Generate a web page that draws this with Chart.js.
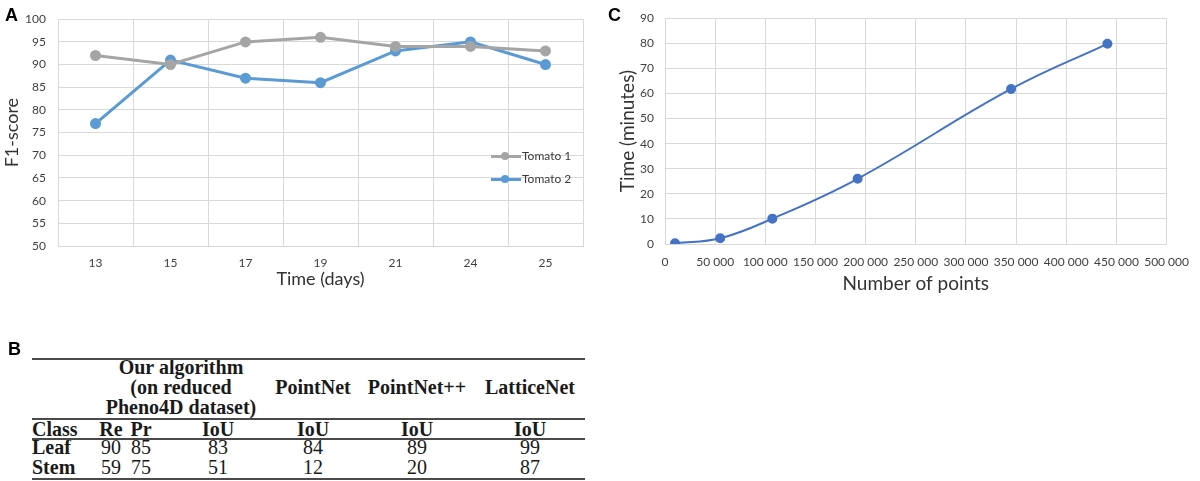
<!DOCTYPE html>
<html><head><meta charset="utf-8">
<script src="https://cdn.jsdelivr.net/npm/chart.js@4.4.1/dist/chart.umd.min.js"></script>
<style>
html,body{margin:0;padding:0;background:#fff;}
#wrap{position:relative;width:1200px;height:481px;overflow:hidden;background:#fff;}
canvas{position:absolute;}
.panel{position:absolute;font-family:"Liberation Sans",Arial,sans-serif;font-weight:bold;font-size:18px;color:#000;line-height:1;}
.tb{position:absolute;font-family:"Liberation Serif","Times New Roman",serif;font-size:20px;line-height:1;color:#1a1a1a;transform:translate(-50%,-50%);white-space:nowrap;}
.tb.l{transform:translate(0,-50%);}
.tb.b{font-weight:bold;}
.rule{position:absolute;background:#4a4a4a;left:32px;width:553px;}
.leg{position:absolute;font-family:Lato,"Liberation Sans",sans-serif;font-size:12px;color:#3a3a3a;line-height:1;}
.legline{position:absolute;height:3px;}
.legdot{position:absolute;width:8px;height:8px;border-radius:50%;}
</style></head><body><div id="wrap">
<canvas id="cA" width="600" height="300" style="left:0;top:0"></canvas>
<canvas id="cC" width="600" height="300" style="left:600px;top:0"></canvas>
<div id="legA"></div>
<div id="tbl"></div>
<div class="panel" style="left:5px;top:5.5px">A</div>
<div class="panel" style="left:608px;top:5.5px">C</div>
<div class="panel" style="left:8px;top:339.5px">B</div>
</div>
<script>
// ---------- Panel A data ----------
const daysLabels = ["13", "15", "17", "19", "21", "24", "25"];
const tomato1F1 = [92, 90, 95, 96, 94, 94, 93];
const tomato2F1 = [77, 91, 87, 86, 93, 95, 90];
const seriesNamesA = ["Tomato 1", "Tomato 2"];
const f1Ticks = [50, 55, 60, 65, 70, 75, 80, 85, 90, 95, 100];

// ---------- Panel C data ----------
const pointCounts = [10000, 55000, 107000, 192000, 345000, 441000];
const timeMinutes = [0.3, 2.3, 10.1, 26, 61.8, 79.8];
const pointCountTicks = [0, 50000, 100000, 150000, 200000, 250000, 300000, 350000, 400000, 450000, 500000];
const minuteTicks = [0, 10, 20, 30, 40, 50, 60, 70, 80, 90];

// ---------- Panel B data ----------
const methodHeaders = [["Our algorithm", "(on reduced", "Pheno4D dataset)"], ["PointNet"], ["PointNet++"], ["LatticeNet"]];
const subHeaders = ["Class", "Re", "Pr", "IoU", "IoU", "IoU", "IoU"];
const tableRows = [
  ["Leaf", 90, 85, 83, 84, 89, 99],
  ["Stem", 59, 75, 51, 12, 20, 87]
];

const GRID = "#D9D9D9";
const TICK = "#3f3f3f";
const TITLE = "#333333";
const FONT = "Lato, 'Liberation Sans', sans-serif";
const colorsA = ["#A5A5A5", "#5B9BD5"];
const colorC = "#4472C4";

// ---------- Chart A ----------
new Chart(document.getElementById("cA"), {
  type: "line",
  data: {
    labels: daysLabels,
    datasets: [tomato1F1, tomato2F1].map((d, i) => ({
      label: seriesNamesA[i],
      data: d,
      borderColor: colorsA[i],
      backgroundColor: colorsA[i],
      pointBackgroundColor: colorsA[i],
      pointBorderColor: colorsA[i],
      borderWidth: 3,
      pointRadius: 4,
      tension: 0
    }))
  },
  options: {
    responsive: false, animation: false, devicePixelRatio: 1,
    layout: { padding: { left: 0, right: 17, top: 10, bottom: 0 } },
    plugins: { legend: { display: false }, tooltip: { enabled: false } },
    scales: {
      x: {
        offset: true,
        grid: { offset: true, color: GRID, drawTicks: false },
        border: { color: GRID },
        ticks: { color: TICK, font: { family: FONT, size: 12 }, padding: 10 },
        title: { display: true, text: "Time (days)", color: TITLE, font: { family: FONT, size: 18 }, padding: { top: 0, bottom: 10 } },
        afterFit: s => { s.height = 54; }
      },
      y: {
        min: 50, max: 100,
        afterBuildTicks: s => { s.ticks = f1Ticks.map(v => ({ value: v })); },
        grid: { color: GRID, drawTicks: false },
        border: { color: GRID },
        ticks: { color: TICK, font: { family: FONT, size: 12 }, padding: 12 },
        title: { display: true, text: "F1-score", color: TITLE, font: { family: FONT, size: 18 }, padding: { top: 1, bottom: 0 } },
        afterFit: s => { s.width = 58; }
      }
    }
  }
});

// Legend A (inside plot)
const legA = document.getElementById("legA");
const legY = [156, 179];
seriesNamesA.forEach((name, i) => {
  const y = legY[i];
  const ln = document.createElement("div");
  ln.className = "legline";
  ln.style.cssText = `left:491px;top:${y - 1.5}px;width:30px;background:${colorsA[i]}`;
  const dot = document.createElement("div");
  dot.className = "legdot";
  dot.style.cssText = `left:${505 - 4}px;top:${y - 4}px;background:${colorsA[i]}`;
  const tx = document.createElement("div");
  tx.className = "leg";
  tx.style.cssText = `left:522px;top:${y - 6.5}px`;
  tx.textContent = name;
  legA.append(ln, dot, tx);
});

// ---------- Chart C ----------
const fmtSpace = v => String(v).replace(/\B(?=(\d{3})+(?!\d))/g, " ");
new Chart(document.getElementById("cC"), {
  type: "line",
  data: {
    datasets: [{
      label: "Time",
      data: pointCounts.map((x, i) => ({ x: x, y: timeMinutes[i] })),
      borderColor: colorC,
      backgroundColor: colorC,
      pointBackgroundColor: colorC,
      pointBorderColor: colorC,
      borderWidth: 2,
      pointRadius: 4,
      tension: 0.4
    }]
  },
  options: {
    responsive: false, animation: false, devicePixelRatio: 1,
    layout: { padding: { left: 0, right: 23, top: 9, bottom: 0 } },
    plugins: { legend: { display: false }, tooltip: { enabled: false } },
    scales: {
      x: {
        type: "linear", min: 0, max: 500000,
        afterBuildTicks: s => { s.ticks = pointCountTicks.map(v => ({ value: v })); },
        grid: { color: GRID, drawTicks: false },
        border: { color: GRID },
        ticks: { color: TICK, font: { family: FONT, size: 12 }, padding: 11, maxRotation: 0, autoSkip: false, callback: v => fmtSpace(v) },
        title: { display: true, text: "Number of points", color: TITLE, font: { family: FONT, size: 19 }, padding: { top: 0, bottom: 5 } },
        afterFit: s => { s.height = 56; }
      },
      y: {
        min: 0, max: 90,
        afterBuildTicks: s => { s.ticks = minuteTicks.map(v => ({ value: v })); },
        grid: { color: GRID, drawTicks: false },
        border: { color: GRID },
        ticks: { color: TICK, font: { family: FONT, size: 12 }, padding: 11 },
        title: { display: true, text: "Time (minutes)", color: TITLE, font: { family: FONT, size: 19 }, padding: { top: 16, bottom: 0 } },
        afterFit: s => { s.width = 65; }
      }
    }
  }
});

// ---------- Table B ----------
const tbl = document.getElementById("tbl");
const colX = [32, 111, 141, 218, 313, 417, 530];     // column anchors
const methodCenterX = [181, 313, 417, 530];
const headerLineY = [367, 387, 407];
const subHeaderY = 429;
const rowY = [447, 467];
function addText(txt, x, y, bold, left) {
  const d = document.createElement("div");
  d.className = "tb" + (bold ? " b" : "") + (left ? " l" : "");
  d.style.left = x + "px";
  d.style.top = y + "px";
  d.textContent = txt;
  tbl.appendChild(d);
}
function addRule(y, h) {
  const r = document.createElement("div");
  r.className = "rule";
  r.style.top = (y - h / 2) + "px";
  r.style.height = h + "px";
  tbl.appendChild(r);
}
methodHeaders.forEach((lines, i) => {
  if (lines.length === 3) lines.forEach((t, k) => addText(t, methodCenterX[i], headerLineY[k], true));
  else addText(lines[0], methodCenterX[i], headerLineY[1], true);
});
subHeaders.forEach((t, i) => addText(t, colX[i], subHeaderY, true, i === 0));
tableRows.forEach((row, r) => {
  row.forEach((v, i) => addText(String(v), colX[i], rowY[r], i === 0, i === 0));
});
addRule(359, 2);
addRule(419, 1.5);
addRule(439, 1.5);
addRule(479, 2);
</script>
</body></html>
